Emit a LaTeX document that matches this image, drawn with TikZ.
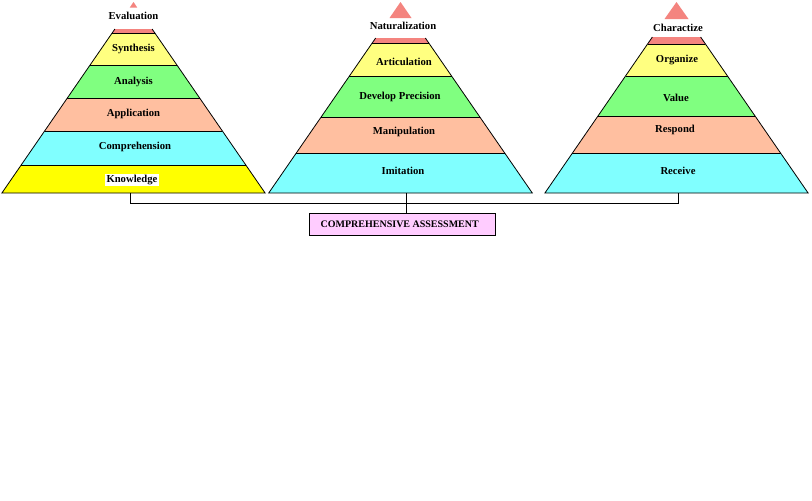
\documentclass[tikz,border=0pt]{standalone}
\usepackage{fontspec}
\setmainfont{Liberation Serif}
\definecolor{cpink}{HTML}{F4847F}
\definecolor{cyel}{HTML}{FFFF80}
\definecolor{cgreen}{HTML}{80FF80}
\definecolor{cpeach}{HTML}{FFBFA0}
\definecolor{ccyan}{HTML}{80FFFF}
\definecolor{cyellow}{HTML}{FFFF00}
\definecolor{cbox}{HTML}{FFCCFF}
\tikzset{lbl/.style={font=\bfseries\fontsize{8}{9}\selectfont, inner sep=1pt},
  conn/.style={draw=black, line width=0.6pt}}
% \band{apexx}{apexy}{slope}{y1}{y2}{color}
\newcommand{\myband}[6]{%
  \fill[#6] ({#1-(#4-#2)*#3},#4) -- ({#1+(#4-#2)*#3},#4) -- ({#1+(#5-#2)*#3},#5) -- ({#1-(#5-#2)*#3},#5) -- cycle;}
\newcommand{\myoutline}[5]{% apexx apexy slope ytop ybase
  \draw[black,line width=0.6pt] ({#1-(#4-#2)*#3},#4) -- ({#1-(#5-#2)*#3},#5) -- ({#1+(#5-#2)*#3},#5) -- ({#1+(#4-#2)*#3},#4);}
\begin{document}
\begin{tikzpicture}[x=0.75pt,y=-0.75pt]
\useasboundingbox[fill=white] (0,0) rectangle (812,500);
% Pyramid 1
\fill[cpink] (133.5,2) -- (129.8,7.5) -- (137.2,7.5) -- cycle;
\myband{133.5}{2}{0.689}{29}{33}{cpink}
\myband{133.5}{2}{0.689}{33}{65}{cyel}
\myband{133.5}{2}{0.689}{65}{98}{cgreen}
\myband{133.5}{2}{0.689}{98}{131}{cpeach}
\myband{133.5}{2}{0.689}{131}{165}{ccyan}
\myband{133.5}{2}{0.689}{165}{193}{cyellow}
\foreach \y in {33,65,98,131,165}{\draw[line width=0.6pt] ({133.5-(\y-2)*0.689},\y) -- ({133.5+(\y-2)*0.689},\y);}
\myoutline{133.5}{2}{0.689}{29}{193}
\node[lbl] (eval) at (133.5,16) {Evaluation};
\node[lbl] (syn) at (133.5,49) {Synthesis};
\node[lbl] (ana) at (133.5,82) {Analysis};
\node[lbl] (app) at (133.5,114) {Application};
\node[lbl] (comp) at (135,147) {Comprehension};
\node[lbl,fill=white] (know) at (132,180) {Knowledge};
% Pyramid 2
\fill[cpink] (400.5,2) -- (389.5,18) -- (411.5,18) -- cycle;
\myband{400.5}{2}{0.69}{38}{43}{cpink}
\myband{400.5}{2}{0.69}{43}{76}{cyel}
\myband{400.5}{2}{0.69}{76}{117}{cgreen}
\myband{400.5}{2}{0.69}{117}{153}{cpeach}
\myband{400.5}{2}{0.69}{153}{193}{ccyan}
\foreach \y in {43,76,117,153}{\draw[line width=0.6pt] ({400.5-(\y-2)*0.69},\y) -- ({400.5+(\y-2)*0.69},\y);}
\myoutline{400.5}{2}{0.69}{38}{193}
\node[lbl] (nat) at (403,26) {Naturalization};
\node[lbl] (art) at (404,62) {Articulation};
\node[lbl] (dev) at (400,97) {Develop Precision};
\node[lbl] (man) at (404,132) {Manipulation};
\node[lbl] (imi) at (403,171) {Imitation};
% Pyramid 3
\fill[cpink] (676.5,2) -- (664.5,19) -- (688.5,19) -- cycle;
\myband{676.5}{2}{0.689}{37}{44}{cpink}
\myband{676.5}{2}{0.689}{44}{76}{cyel}
\myband{676.5}{2}{0.689}{76}{116}{cgreen}
\myband{676.5}{2}{0.689}{116}{153}{cpeach}
\myband{676.5}{2}{0.689}{153}{193}{ccyan}
\foreach \y in {44,76,116,153}{\draw[line width=0.6pt] ({676.5-(\y-2)*0.689},\y) -- ({676.5+(\y-2)*0.689},\y);}
\myoutline{676.5}{2}{0.689}{37}{193}
\node[lbl] (cha) at (678,28) {Charactize};
\node[lbl] (org) at (677,60) {Organize};
\node[lbl] (val) at (676,98) {Value};
\node[lbl] (res) at (675,130) {Respond};
\node[lbl] (rec) at (678,171) {Receive};
% Assessment
\node[draw=black, fill=cbox, line width=0.6pt, minimum width=186*0.75pt, minimum height=22*0.75pt, inner sep=0pt, font=\bfseries\fontsize{7.5}{9}\selectfont, anchor=north west] (ca) at (309,213) {\hspace*{-4pt}COMPREHENSIVE ASSESSMENT};
\coordinate (p1) at (130,193);
\coordinate (p2) at (406,193);
\coordinate (p3) at (678,193);
\draw[conn] (p1) -- ++(0,10) -| (p3);
\draw[conn] (p2) -- (p2 |- ca.north);
\end{tikzpicture}
\end{document}
